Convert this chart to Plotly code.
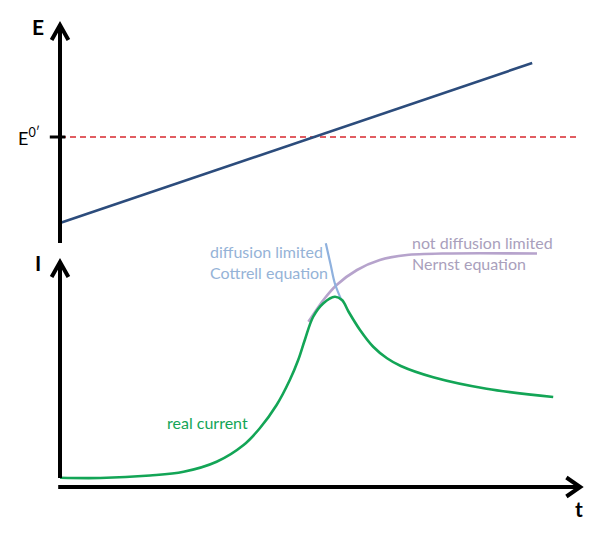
import plotly.graph_objects as go

# ---------------- data (arbitrary units) ----------------
# top panel: applied potential E(t)
t_ramp = [0.0, 78.7]
e_ramp = [8.0, 72.0]
E0 = 42.4            # formal potential E0'
t_dash_end = 86.3

# bottom panel: currents I(t)
t_real = [0.0, 6.7, 15.0, 20.6, 26.1, 30.6, 33.3, 36.1, 38.3, 39.7, 40.8, 42.2,
          43.9, 45.8, 47.0, 48.1, 50.0, 52.2, 54.5, 56.8, 62.2, 71.1, 82.2]
i_real = [3.7, 3.6, 4.6, 6.1, 10.1, 16.8, 23.5, 32.8, 42.8, 50.8, 58.8, 68.1,
          73.5, 76.1, 74.8, 70.1, 62.8, 56.1, 51.5, 48.4, 43.9, 39.3, 36.0]

t_nernst = [41.4, 43.9, 46.1, 49.5, 53.3, 57.8, 64.2, 70.0, 79.5]
i_nernst = [66.1, 74.8, 80.8, 86.8, 90.8, 92.8, 93.4, 93.5, 93.4]

t_cott = [44.3, 45.1, 45.8, 46.9]
i_cott = [97.5, 89.0, 81.5, 74.8]

# axis extents
E_axis_top = 87.2
I_axis_bottom = 3.6
I_axis_top = 90.0
t_axis_start = -0.3
t_axis_end = 86.7

# ---------------- figure ----------------
W, H = 600, 538
X_RANGE = [-10, 90]
E_RANGE = [-118, 97.2]
I_RANGE = [-20.4, 194.8]

fig = go.Figure()

fig.add_trace(go.Scatter(x=[0, t_dash_end], y=[E0, E0], mode="lines",
                         line=dict(color="#D7282F", width=1.6, dash="6px,4px"),
                         yaxis="y"))
fig.add_trace(go.Scatter(x=t_ramp, y=e_ramp, mode="lines",
                         line=dict(color="#2C4C7C", width=2.6), yaxis="y"))

fig.add_trace(go.Scatter(x=t_nernst, y=i_nernst, mode="lines",
                         line=dict(color="#B6A3CC", width=2.6, shape="spline", smoothing=0.7),
                         yaxis="y2"))
fig.add_trace(go.Scatter(x=t_cott, y=i_cott, mode="lines",
                         line=dict(color="#8FB1DE", width=2.2, shape="spline"),
                         yaxis="y2"))
fig.add_trace(go.Scatter(x=t_real, y=i_real, mode="lines",
                         line=dict(color="#13A556", width=2.6, shape="spline", smoothing=1.0),
                         yaxis="y2"))

shapes = []
k = dict(color="black", width=4)
# E axis
shapes.append(dict(type="line", xref="x", yref="y", x0=0, x1=0, y0=0, y1=E_axis_top, line=k))
shapes.append(dict(type="path", xref="x", yref="y",
                   path=f"M {-1.4},{E_axis_top-6} L 0,{E_axis_top} L {1.4},{E_axis_top-6}", line=k))
# E0' tick
shapes.append(dict(type="line", xref="x", yref="y", x0=-1.7, x1=0.9, y0=E0, y1=E0,
                   line=dict(color="black", width=3)))
# I axis
shapes.append(dict(type="line", xref="x", yref="y2", x0=0, x1=0, y0=I_axis_bottom, y1=I_axis_top, line=k))
shapes.append(dict(type="path", xref="x", yref="y2",
                   path=f"M {-1.4},{I_axis_top-6} L 0,{I_axis_top} L {1.4},{I_axis_top-6}", line=k))
# t axis
shapes.append(dict(type="line", xref="x", yref="y2", x0=t_axis_start, x1=t_axis_end, y0=0, y1=0, line=k))
shapes.append(dict(type="path", xref="x", yref="y2",
                   path=f"M {t_axis_end-2.3},3.8 L {t_axis_end},0 L {t_axis_end-2.3},-3.8", line=k))


def px(x, y):
    return x / W, 1 - y / H


FONT = "Lato"
ann = []


def add_text(text, x, y, color, size, xanchor="left", bold=False):
    ax_, ay_ = px(x, y)
    ann.append(dict(text=f"<b>{text}</b>" if bold else text, x=ax_, y=ay_,
                    xref="paper", yref="paper", showarrow=False,
                    xanchor=xanchor, yanchor="middle",
                    font=dict(family=FONT, size=size, color=color)))


add_text("E", 38, 26, "black", 21, "center", bold=True)
add_text("E<sup>0′</sup>", 16, 137, "black", 18, "left")
add_text("I", 38, 262, "black", 21, "center", bold=True)
add_text("t", 579, 508, "black", 21, "center", bold=True)
add_text("diffusion limited", 208, 252, "#95B3D7", 16)
add_text("Cottrell equation", 208, 272, "#95B3D7", 16)
add_text("not diffusion limited", 410, 243, "#A9A0BC", 16)
add_text("Nernst equation", 410, 263, "#A9A0BC", 16)
add_text("real current", 165, 422, "#13A556", 16)

fig.update_layout(
    width=W, height=H, margin=dict(l=0, r=0, t=0, b=0),
    paper_bgcolor="white", plot_bgcolor="white", showlegend=False,
    xaxis=dict(range=X_RANGE, visible=False, fixedrange=True),
    yaxis=dict(range=E_RANGE, visible=False, domain=[0, 1]),
    yaxis2=dict(range=I_RANGE, visible=False, overlaying="y"),
    shapes=shapes, annotations=ann,
)

fig.write_html("out.html", config={"displayModeBar": False},
               post_script="document.body.style.margin='0px';document.body.style.overflow='hidden';")
